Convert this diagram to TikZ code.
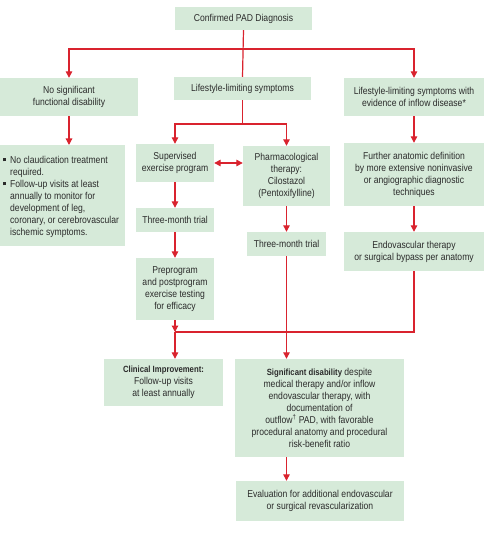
\documentclass[tikz,border=0pt]{standalone}
\usepackage{fontspec}
\setmainfont[FakeStretch=0.86]{Liberation Sans}
\usepackage{tikz}
\usetikzlibrary{arrows.meta, calc, positioning}

\definecolor{boxgreen}{HTML}{D6EAD9}
\definecolor{arrred}{HTML}{D9232E}
\definecolor{txtgray}{HTML}{2B2B2B}

\tikzset{
    box/.style={fill=boxgreen, inner sep=2pt, align=center, text=txtgray,
        font=\fontsize{10}{12}\selectfont},
    arr/.style={draw=arrred, line width=1.2pt, -{Triangle[width=6.5pt,length=6.5pt]}},
    dblarr/.style={draw=arrred, line width=1.2pt, {Triangle[width=6.5pt,length=6.5pt]}-{Triangle[width=6.5pt,length=6.5pt]}},
    lin/.style={draw=arrred, line width=1.2pt},
}

\newcommand{\sqbul}{\makebox[7pt][l]{\raisebox{2pt}{\rule{3.2pt}{3.2pt}}}}

\begin{document}
\begin{tikzpicture}[x=1pt,y=-1pt]
                \useasboundingbox (0,0) rectangle (492,540);

                % first row
                \node[box, minimum width=137pt, minimum height=23pt] (diag) at (243.5,18.5) {Confirmed PAD Diagnosis};
                \node[box, minimum width=138pt, minimum height=38pt] (nodis) at (69,97) {No significant\\functional disability};
                \node[box, minimum width=137pt, minimum height=23pt] (life) at (242.5,88.5) {Lifestyle-limiting symptoms};
                \node[box, minimum width=140pt, minimum height=38pt] (inflow) at (414,97) {Lifestyle-limiting symptoms with\\evidence of inflow disease*};

                % second row
                \node[box, minimum width=125pt, minimum height=101pt, anchor=north west, inner sep=3pt, align=left] (bullet) at (0,145) {%
                    \parbox[c][93pt][t]{119pt}{\vspace*{7pt}\raggedright\hyphenpenalty=10000
                    \hangindent=7pt\hangafter=1\noindent\sqbul No claudication treatment required.\par
                    \hangindent=7pt\hangafter=1\noindent\sqbul Follow-up visits at least annually to monitor for development of leg, coronary, or cerebrovascular ischemic symptoms.\par}};
                \node[box, minimum width=78pt, minimum height=38pt] (superv) at (175,163) {Supervised\\exercise program};
                \node[box, minimum width=87pt, minimum height=60pt] (pharma) at (286.5,176) {Pharmacological\\therapy:\\Cilostazol\\(Pentoxifylline)};
                \node[box, minimum width=140pt, minimum height=63pt] (further) at (414,174.5) {Further anatomic definition\\by more extensive noninvasive\\or angiographic diagnostic\\techniques};

                % trials
                \node[box, minimum width=78pt, minimum height=24pt] (trialA) at (175,220) {Three-month trial};
                \node[box, minimum width=79pt, minimum height=24pt] (trialB) at (286.5,244) {Three-month trial};
                \node[box, minimum width=140pt, minimum height=39pt] (endo) at (414,251.5) {Endovascular therapy\\or surgical bypass per anatomy};
                \node[box, minimum width=78pt, minimum height=62pt] (prepro) at (175,289) {Preprogram\\and postprogram\\exercise testing\\for efficacy};

                % outcomes
                \node[box, minimum width=119pt, minimum height=47pt] (clinical) at (163.5,382.5) {{\bfseries\fontsize{9}{12}\selectfont Clinical Improvement:}\\Follow-up visits\\at least annually};
                \node[box, minimum width=169pt, minimum height=98pt] (signif) at (319.5,408) {{\bfseries\fontsize{9}{12}\selectfont Significant disability} despite\\medical therapy and/or inflow\\endovascular therapy, with\\documentation of\\outflow\textsuperscript{\textdagger} PAD, with favorable\\procedural anatomy and procedural\\risk-benefit ratio};
                \node[box, minimum width=168pt, minimum height=40pt] (evalu) at (320,501) {Evaluation for additional endovascular\\or surgical revascularization};

                % connectors
                \coordinate (split) at (243.5,49);
                \coordinate (split2) at (242.5,124);
                \coordinate (merge) at (175,332);
                \coordinate (sigout) at (286.5,457);

                \draw[lin] (diag.south) -- (life.north);
                \draw[arr] (split) -| (nodis.north);
                \draw[arr] (split) -| (inflow.north);
                \draw[lin] (life.south) -- (split2);
                \draw[arr] (split2) -| (superv.north);
                \draw[arr] (split2) -| (pharma.north);

                \draw[arr] (nodis.south) -- (nodis.south |- bullet.north);
                \foreach \a/\b in {inflow/further, further/endo, superv/trialA, trialA/prepro, pharma/trialB}
                    \draw[arr] (\a.south) -- (\b.north);
                \draw[dblarr] (superv.east) -- (superv.east -| pharma.west);

                \draw[arr] (prepro.south) -- (merge);
                \draw[lin] (endo.south) |- (merge);
                \draw[arr] (merge) -- (merge |- clinical.north);
                \draw[arr] (trialB.south) -- (trialB.south |- signif.north);
                \draw[arr] (sigout) -- (sigout |- evalu.north);
            \end{tikzpicture}
\end{document}
